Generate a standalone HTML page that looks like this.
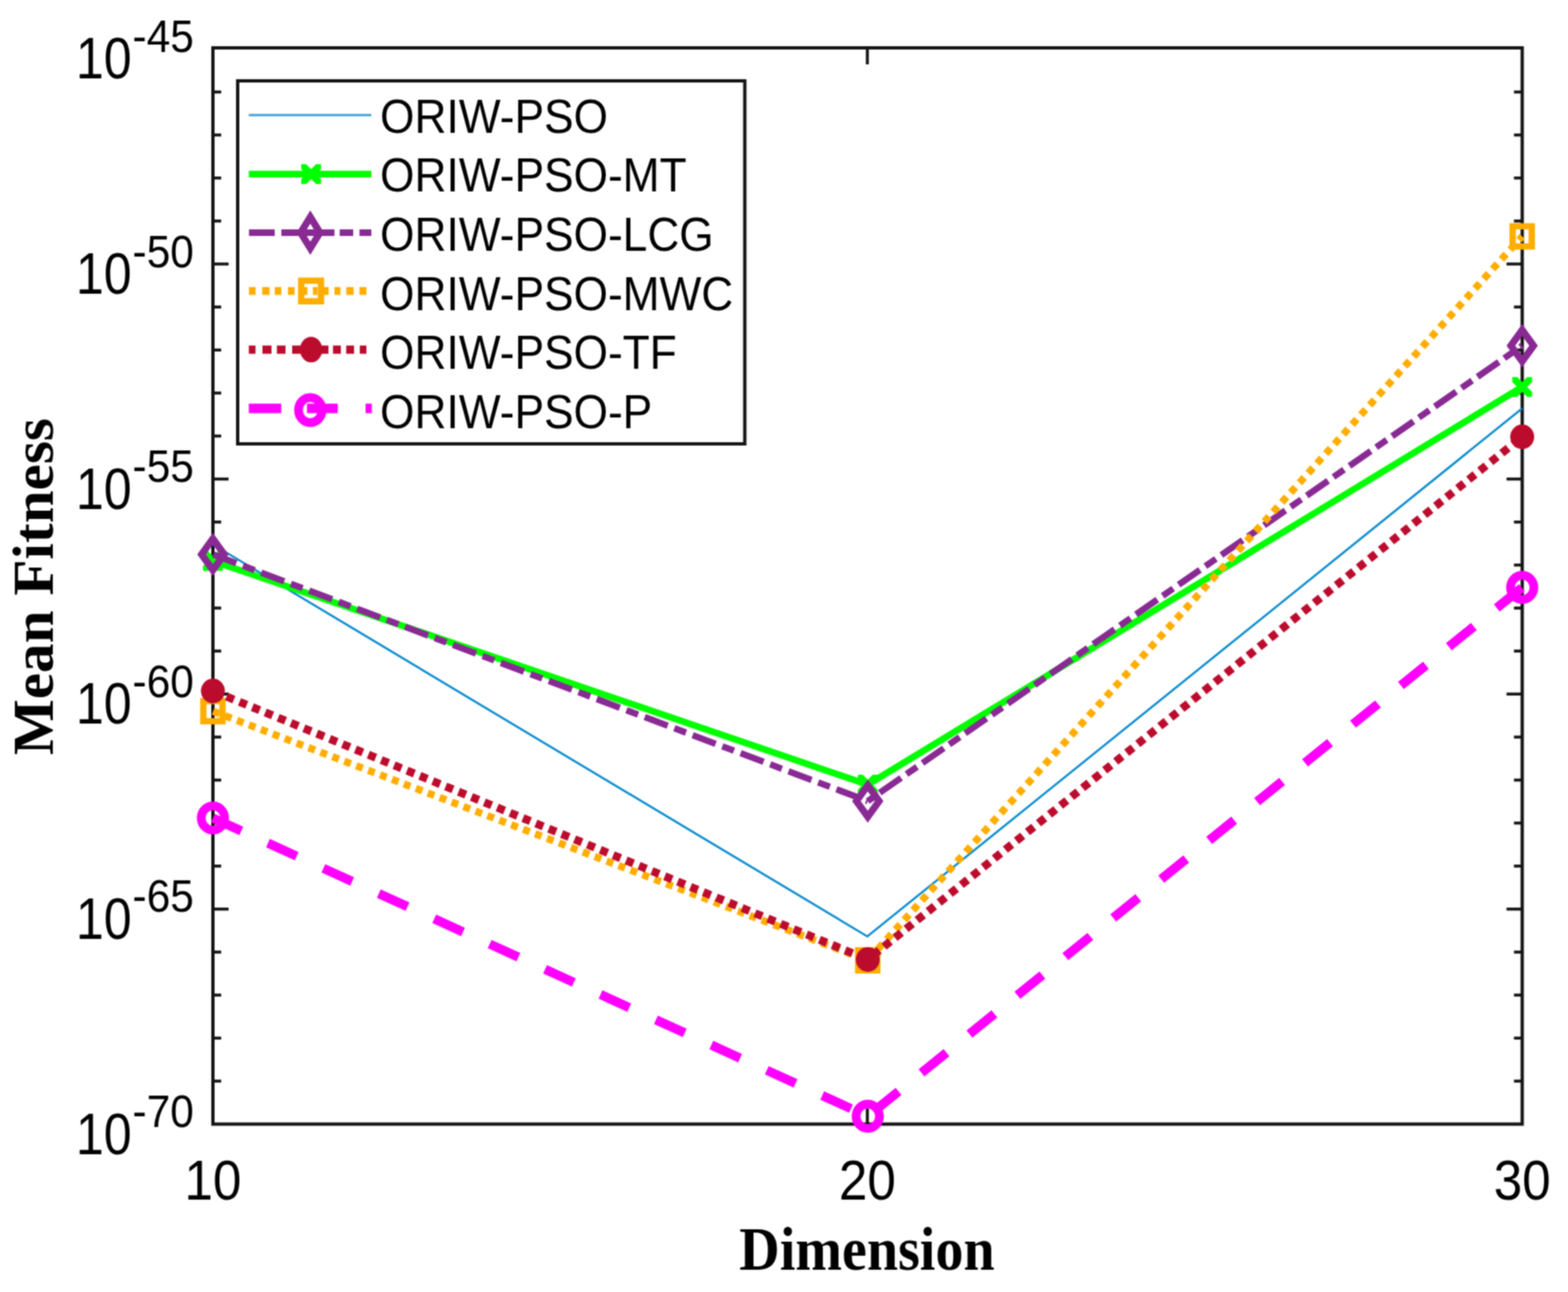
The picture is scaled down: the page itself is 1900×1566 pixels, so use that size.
<!DOCTYPE html><html><head><meta charset="utf-8"><style>html,body{margin:0;padding:0;background:#fff;}svg{display:block}</style></head><body>
<svg width="1900" height="1566" viewBox="0 0 1900 1566">
<defs><filter id="soft" filterUnits="userSpaceOnUse" x="0" y="0" width="1900" height="1566" color-interpolation-filters="sRGB"><feConvolveMatrix order="3" kernelMatrix="1 2 1 2 4 2 1 2 1" divisor="16" edgeMode="duplicate"/></filter></defs>
<g filter="url(#soft)">
<rect x="0" y="0" width="1900" height="1566" fill="#fff"/>
<g stroke="#141414" fill="none" stroke-linecap="square">
<rect x="258" y="58" width="1586.5" height="1304.5" stroke-width="4"/>
<line x1="258" y1="111.50" x2="268" y2="111.50" stroke-width="3.6" stroke-linecap="butt"/>
<line x1="1844.5" y1="111.50" x2="1834.5" y2="111.50" stroke-width="3.6" stroke-linecap="butt"/>
<line x1="258" y1="163.62" x2="268" y2="163.62" stroke-width="3.6" stroke-linecap="butt"/>
<line x1="1844.5" y1="163.62" x2="1834.5" y2="163.62" stroke-width="3.6" stroke-linecap="butt"/>
<line x1="258" y1="215.75" x2="268" y2="215.75" stroke-width="3.6" stroke-linecap="butt"/>
<line x1="1844.5" y1="215.75" x2="1834.5" y2="215.75" stroke-width="3.6" stroke-linecap="butt"/>
<line x1="258" y1="267.88" x2="268" y2="267.88" stroke-width="3.6" stroke-linecap="butt"/>
<line x1="1844.5" y1="267.88" x2="1834.5" y2="267.88" stroke-width="3.6" stroke-linecap="butt"/>
<line x1="258" y1="320.00" x2="277" y2="320.00" stroke-width="3.6" stroke-linecap="butt"/>
<line x1="1844.5" y1="320.00" x2="1825.5" y2="320.00" stroke-width="3.6" stroke-linecap="butt"/>
<line x1="258" y1="372.12" x2="268" y2="372.12" stroke-width="3.6" stroke-linecap="butt"/>
<line x1="1844.5" y1="372.12" x2="1834.5" y2="372.12" stroke-width="3.6" stroke-linecap="butt"/>
<line x1="258" y1="424.25" x2="268" y2="424.25" stroke-width="3.6" stroke-linecap="butt"/>
<line x1="1844.5" y1="424.25" x2="1834.5" y2="424.25" stroke-width="3.6" stroke-linecap="butt"/>
<line x1="258" y1="476.38" x2="268" y2="476.38" stroke-width="3.6" stroke-linecap="butt"/>
<line x1="1844.5" y1="476.38" x2="1834.5" y2="476.38" stroke-width="3.6" stroke-linecap="butt"/>
<line x1="258" y1="528.50" x2="268" y2="528.50" stroke-width="3.6" stroke-linecap="butt"/>
<line x1="1844.5" y1="528.50" x2="1834.5" y2="528.50" stroke-width="3.6" stroke-linecap="butt"/>
<line x1="258" y1="580.62" x2="277" y2="580.62" stroke-width="3.6" stroke-linecap="butt"/>
<line x1="1844.5" y1="580.62" x2="1825.5" y2="580.62" stroke-width="3.6" stroke-linecap="butt"/>
<line x1="258" y1="632.75" x2="268" y2="632.75" stroke-width="3.6" stroke-linecap="butt"/>
<line x1="1844.5" y1="632.75" x2="1834.5" y2="632.75" stroke-width="3.6" stroke-linecap="butt"/>
<line x1="258" y1="684.88" x2="268" y2="684.88" stroke-width="3.6" stroke-linecap="butt"/>
<line x1="1844.5" y1="684.88" x2="1834.5" y2="684.88" stroke-width="3.6" stroke-linecap="butt"/>
<line x1="258" y1="737.00" x2="268" y2="737.00" stroke-width="3.6" stroke-linecap="butt"/>
<line x1="1844.5" y1="737.00" x2="1834.5" y2="737.00" stroke-width="3.6" stroke-linecap="butt"/>
<line x1="258" y1="789.12" x2="268" y2="789.12" stroke-width="3.6" stroke-linecap="butt"/>
<line x1="1844.5" y1="789.12" x2="1834.5" y2="789.12" stroke-width="3.6" stroke-linecap="butt"/>
<line x1="258" y1="841.25" x2="277" y2="841.25" stroke-width="3.6" stroke-linecap="butt"/>
<line x1="1844.5" y1="841.25" x2="1825.5" y2="841.25" stroke-width="3.6" stroke-linecap="butt"/>
<line x1="258" y1="893.38" x2="268" y2="893.38" stroke-width="3.6" stroke-linecap="butt"/>
<line x1="1844.5" y1="893.38" x2="1834.5" y2="893.38" stroke-width="3.6" stroke-linecap="butt"/>
<line x1="258" y1="945.50" x2="268" y2="945.50" stroke-width="3.6" stroke-linecap="butt"/>
<line x1="1844.5" y1="945.50" x2="1834.5" y2="945.50" stroke-width="3.6" stroke-linecap="butt"/>
<line x1="258" y1="997.62" x2="268" y2="997.62" stroke-width="3.6" stroke-linecap="butt"/>
<line x1="1844.5" y1="997.62" x2="1834.5" y2="997.62" stroke-width="3.6" stroke-linecap="butt"/>
<line x1="258" y1="1049.75" x2="268" y2="1049.75" stroke-width="3.6" stroke-linecap="butt"/>
<line x1="1844.5" y1="1049.75" x2="1834.5" y2="1049.75" stroke-width="3.6" stroke-linecap="butt"/>
<line x1="258" y1="1101.88" x2="277" y2="1101.88" stroke-width="3.6" stroke-linecap="butt"/>
<line x1="1844.5" y1="1101.88" x2="1825.5" y2="1101.88" stroke-width="3.6" stroke-linecap="butt"/>
<line x1="258" y1="1154.00" x2="268" y2="1154.00" stroke-width="3.6" stroke-linecap="butt"/>
<line x1="1844.5" y1="1154.00" x2="1834.5" y2="1154.00" stroke-width="3.6" stroke-linecap="butt"/>
<line x1="258" y1="1206.12" x2="268" y2="1206.12" stroke-width="3.6" stroke-linecap="butt"/>
<line x1="1844.5" y1="1206.12" x2="1834.5" y2="1206.12" stroke-width="3.6" stroke-linecap="butt"/>
<line x1="258" y1="1258.25" x2="268" y2="1258.25" stroke-width="3.6" stroke-linecap="butt"/>
<line x1="1844.5" y1="1258.25" x2="1834.5" y2="1258.25" stroke-width="3.6" stroke-linecap="butt"/>
<line x1="258" y1="1310.38" x2="268" y2="1310.38" stroke-width="3.6" stroke-linecap="butt"/>
<line x1="1844.5" y1="1310.38" x2="1834.5" y2="1310.38" stroke-width="3.6" stroke-linecap="butt"/>
<line x1="1051" y1="1362.5" x2="1051" y2="1343.5" stroke-width="3.6" stroke-linecap="butt"/>
<line x1="1051" y1="58" x2="1051" y2="78" stroke-width="3.6" stroke-linecap="butt"/>
</g>
<polyline points="258,660 1051,1135 1844.5,495" fill="none" stroke="#0A8BCF" stroke-width="2.6" stroke-linejoin="miter"/>
<polyline points="258,680 1051.5,951 1844.5,469" fill="none" stroke="#00FF00" stroke-width="8" stroke-linejoin="miter"/>
<path d="M246.00,668.00 L252.00,668.00 L258.00,674.00 L264.00,668.00 L270.00,668.00 L270.00,674.00 L264.00,680.00 L270.00,686.00 L270.00,692.00 L264.00,692.00 L258.00,686.00 L252.00,692.00 L246.00,692.00 L246.00,686.00 L252.00,680.00 L246.00,674.00Z" fill="#00FF00"/>
<path d="M1039.50,939.00 L1045.50,939.00 L1051.50,945.00 L1057.50,939.00 L1063.50,939.00 L1063.50,945.00 L1057.50,951.00 L1063.50,957.00 L1063.50,963.00 L1057.50,963.00 L1051.50,957.00 L1045.50,963.00 L1039.50,963.00 L1039.50,957.00 L1045.50,951.00 L1039.50,945.00Z" fill="#00FF00"/>
<path d="M1832.50,457.00 L1838.50,457.00 L1844.50,463.00 L1850.50,457.00 L1856.50,457.00 L1856.50,463.00 L1850.50,469.00 L1856.50,475.00 L1856.50,481.00 L1850.50,481.00 L1844.50,475.00 L1838.50,481.00 L1832.50,481.00 L1832.50,475.00 L1838.50,469.00 L1832.50,463.00Z" fill="#00FF00"/>
<line x1="258" y1="672" x2="1051.5" y2="971" stroke="#892A94" stroke-width="7.8" stroke-dasharray="29.80 8.60 15.10 8.57" stroke-dashoffset="61.57" stroke-linecap="butt"/>
<line x1="1051.5" y1="971" x2="1844.5" y2="419" stroke="#892A94" stroke-width="7.8" stroke-dasharray="31.50 8.00 15.50 8.04" stroke-dashoffset="45.34" stroke-linecap="butt"/>
<path d="M258,652.95L271.75,672L258,691.05L244.25,672Z" stroke="#892A94" stroke-width="8.5" fill="none" stroke-linejoin="miter"/>
<path d="M1051.5,951.95L1065.25,971L1051.5,990.05L1037.75,971Z" stroke="#892A94" stroke-width="8.5" fill="none" stroke-linejoin="miter"/>
<path d="M1844.5,399.95L1858.25,419L1844.5,438.05L1830.75,419Z" stroke="#892A94" stroke-width="8.5" fill="none" stroke-linejoin="miter"/>
<line x1="258" y1="862" x2="1051.5" y2="1164" stroke="#FFAD00" stroke-width="8.8" stroke-dasharray="8.40 7.06" stroke-dashoffset="15.16" stroke-linecap="butt"/>
<line x1="1051.5" y1="1164" x2="1844.5" y2="286.5" stroke="#FFAD00" stroke-width="8.8" stroke-dasharray="8.60 7.27" stroke-dashoffset="13.37" stroke-linecap="butt"/>
<rect x="246.4" y="849.8" width="23.2" height="24.4" stroke="#FFAD00" stroke-width="7.6" fill="none"/>
<rect x="1039.9" y="1151.8" width="23.2" height="24.4" stroke="#FFAD00" stroke-width="7.6" fill="none"/>
<rect x="1832.9" y="274.3" width="23.2" height="24.4" stroke="#FFAD00" stroke-width="7.6" fill="none"/>
<line x1="258" y1="837.5" x2="1051.5" y2="1163" stroke="#BC0C2D" stroke-width="9.8" stroke-dasharray="9.60 7.28" stroke-dashoffset="15.88" stroke-linecap="butt"/>
<line x1="1051.5" y1="1163" x2="1844.5" y2="529.5" stroke="#BC0C2D" stroke-width="9.8" stroke-dasharray="9.80 7.31" stroke-dashoffset="9.01" stroke-linecap="butt"/>
<ellipse cx="258" cy="837.5" rx="14.5" ry="15" fill="#BC0C2D"/>
<ellipse cx="1051.5" cy="1163" rx="14.5" ry="15" fill="#BC0C2D"/>
<ellipse cx="1844.5" cy="529.5" rx="14.5" ry="15" fill="#BC0C2D"/>
<line x1="258" y1="991.5" x2="1051.5" y2="1353" stroke="#FF00FF" stroke-width="11.2" stroke-dasharray="38.30 35.50" stroke-dashoffset="0.50" stroke-linecap="butt"/>
<line x1="1051.5" y1="1353" x2="1844.5" y2="712" stroke="#FF00FF" stroke-width="11.2" stroke-dasharray="39.00 35.70" stroke-dashoffset="65.70" stroke-linecap="butt"/>
<ellipse cx="258" cy="991.5" rx="14.2" ry="14.8" stroke="#FF00FF" stroke-width="10.5" fill="none"/>
<ellipse cx="1051.5" cy="1353" rx="14.2" ry="14.8" stroke="#FF00FF" stroke-width="10.5" fill="none"/>
<ellipse cx="1844.5" cy="712" rx="14.2" ry="14.8" stroke="#FF00FF" stroke-width="10.5" fill="none"/>
<text transform="translate(96.7,95.38) scale(0.874,1)" font-family="Liberation Sans, Arial, Helvetica, sans-serif" font-size="69.5" fill="#000" x="-5.3">10</text>
<text transform="translate(235,62.88) scale(0.92,1)" font-family="Liberation Sans, Arial, Helvetica, sans-serif" font-size="56" fill="#000" text-anchor="end">-45</text>
<text transform="translate(96.7,356.00) scale(0.874,1)" font-family="Liberation Sans, Arial, Helvetica, sans-serif" font-size="69.5" fill="#000" x="-5.3">10</text>
<text transform="translate(235,323.50) scale(0.92,1)" font-family="Liberation Sans, Arial, Helvetica, sans-serif" font-size="56" fill="#000" text-anchor="end">-50</text>
<text transform="translate(96.7,616.62) scale(0.874,1)" font-family="Liberation Sans, Arial, Helvetica, sans-serif" font-size="69.5" fill="#000" x="-5.3">10</text>
<text transform="translate(235,584.12) scale(0.92,1)" font-family="Liberation Sans, Arial, Helvetica, sans-serif" font-size="56" fill="#000" text-anchor="end">-55</text>
<text transform="translate(96.7,877.25) scale(0.874,1)" font-family="Liberation Sans, Arial, Helvetica, sans-serif" font-size="69.5" fill="#000" x="-5.3">10</text>
<text transform="translate(235,844.75) scale(0.92,1)" font-family="Liberation Sans, Arial, Helvetica, sans-serif" font-size="56" fill="#000" text-anchor="end">-60</text>
<text transform="translate(96.7,1137.88) scale(0.874,1)" font-family="Liberation Sans, Arial, Helvetica, sans-serif" font-size="69.5" fill="#000" x="-5.3">10</text>
<text transform="translate(235,1105.38) scale(0.92,1)" font-family="Liberation Sans, Arial, Helvetica, sans-serif" font-size="56" fill="#000" text-anchor="end">-65</text>
<text transform="translate(96.7,1398.50) scale(0.874,1)" font-family="Liberation Sans, Arial, Helvetica, sans-serif" font-size="69.5" fill="#000" x="-5.3">10</text>
<text transform="translate(235,1366.00) scale(0.92,1)" font-family="Liberation Sans, Arial, Helvetica, sans-serif" font-size="56" fill="#000" text-anchor="end">-70</text>
<text transform="translate(258,1453.6) scale(0.9,1)" font-family="Liberation Sans, Arial, Helvetica, sans-serif" font-size="69" fill="#000" text-anchor="middle">10</text>
<text transform="translate(1051,1453.6) scale(0.9,1)" font-family="Liberation Sans, Arial, Helvetica, sans-serif" font-size="69" fill="#000" text-anchor="middle">20</text>
<text transform="translate(1844.5,1453.6) scale(0.9,1)" font-family="Liberation Sans, Arial, Helvetica, sans-serif" font-size="69" fill="#000" text-anchor="middle">30</text>
<text transform="translate(1050.5,1539) scale(0.93,1)" font-family="Liberation Serif, Times New Roman, serif" font-weight="bold" font-size="73" fill="#000" text-anchor="middle">Dimension</text>
<text transform="translate(64,711) rotate(-90) scale(0.983,0.96)" font-family="Liberation Serif, Times New Roman, serif" font-weight="bold" font-size="73" fill="#000" text-anchor="middle">Mean Fitness</text>
<rect x="288" y="98" width="614.5" height="440" fill="#fff" stroke="#141414" stroke-width="4"/>
<line x1="301.5" y1="139.5" x2="450" y2="139.5" stroke="#4FAADB" stroke-width="3.2"/>
<line x1="301.5" y1="211" x2="450" y2="211" stroke="#00FF00" stroke-width="8"/>
<path d="M365.00,199.00 L371.00,199.00 L377.00,205.00 L383.00,199.00 L389.00,199.00 L389.00,205.00 L383.00,211.00 L389.00,217.00 L389.00,223.00 L383.00,223.00 L377.00,217.00 L371.00,223.00 L365.00,223.00 L365.00,217.00 L371.00,211.00 L365.00,205.00Z" fill="#00FF00"/>
<line x1="301.7" y1="282" x2="332.9" y2="282" stroke="#892A94" stroke-width="8"/>
<line x1="340.9" y1="282" x2="405.3" y2="282" stroke="#892A94" stroke-width="8"/>
<line x1="411.6" y1="282" x2="428" y2="282" stroke="#892A94" stroke-width="8"/>
<line x1="435.6" y1="282" x2="450" y2="282" stroke="#892A94" stroke-width="8"/>
<path d="M376,263.1L387.7,282L376,300.9L364.3,282Z" stroke="#892A94" stroke-width="8.5" fill="none" stroke-linejoin="miter"/>
<line x1="301.7" y1="352.7" x2="309.7" y2="352.7" stroke="#FFAD00" stroke-width="9.5"/>
<line x1="317.7" y1="352.7" x2="326.6" y2="352.7" stroke="#FFAD00" stroke-width="9.5"/>
<line x1="332.9" y1="352.7" x2="340.9" y2="352.7" stroke="#FFAD00" stroke-width="9.5"/>
<line x1="348.9" y1="352.7" x2="356.9" y2="352.7" stroke="#FFAD00" stroke-width="9.5"/>
<line x1="364.5" y1="352.7" x2="372.5" y2="352.7" stroke="#FFAD00" stroke-width="9.5"/>
<line x1="379.2" y1="352.7" x2="384.7" y2="352.7" stroke="#FFAD00" stroke-width="9.5"/>
<line x1="390" y1="352.7" x2="398.2" y2="352.7" stroke="#FFAD00" stroke-width="9.5"/>
<line x1="405.3" y1="352.7" x2="412.5" y2="352.7" stroke="#FFAD00" stroke-width="9.5"/>
<line x1="419.6" y1="352.7" x2="428.5" y2="352.7" stroke="#FFAD00" stroke-width="9.5"/>
<line x1="435.6" y1="352.7" x2="444" y2="352.7" stroke="#FFAD00" stroke-width="9.5"/>
<rect x="365" y="340.2" width="24" height="25.0" stroke="#FFAD00" stroke-width="7.6" fill="none"/>
<line x1="301.5" y1="423.8" x2="309.6" y2="423.8" stroke="#BC0C2D" stroke-width="10"/>
<line x1="318" y1="423.8" x2="329" y2="423.8" stroke="#BC0C2D" stroke-width="10"/>
<line x1="335.5" y1="423.8" x2="346" y2="423.8" stroke="#BC0C2D" stroke-width="10"/>
<line x1="354" y1="423.8" x2="361" y2="423.8" stroke="#BC0C2D" stroke-width="10"/>
<line x1="361" y1="423.8" x2="392" y2="423.8" stroke="#BC0C2D" stroke-width="10"/>
<line x1="392" y1="423.8" x2="398" y2="423.8" stroke="#BC0C2D" stroke-width="10"/>
<line x1="403.5" y1="423.8" x2="413" y2="423.8" stroke="#BC0C2D" stroke-width="10"/>
<line x1="419.5" y1="423.8" x2="429" y2="423.8" stroke="#BC0C2D" stroke-width="10"/>
<line x1="436" y1="423.8" x2="444" y2="423.8" stroke="#BC0C2D" stroke-width="10"/>
<ellipse cx="377" cy="423.8" rx="13.5" ry="15.5" fill="#BC0C2D"/>
<line x1="301.5" y1="495" x2="340.8" y2="495" stroke="#FF00FF" stroke-width="11.5"/>
<line x1="372" y1="495" x2="409.3" y2="495" stroke="#FF00FF" stroke-width="11.5"/>
<line x1="443" y1="495" x2="450.5" y2="495" stroke="#FF00FF" stroke-width="11.5"/>
<ellipse cx="376" cy="497" rx="14.3" ry="15.3" stroke="#FF00FF" stroke-width="10.5" fill="none"/>
<text transform="translate(463,160.80) scale(0.925,1)" font-family="Liberation Sans, Arial, Helvetica, sans-serif" font-size="58" fill="#000" x="-2.7">ORIW-PSO</text>
<text transform="translate(463,232.40) scale(0.925,1)" font-family="Liberation Sans, Arial, Helvetica, sans-serif" font-size="58" fill="#000" x="-2.7">ORIW-PSO-MT</text>
<text transform="translate(463,304.00) scale(0.925,1)" font-family="Liberation Sans, Arial, Helvetica, sans-serif" font-size="58" fill="#000" x="-2.7">ORIW-PSO-LCG</text>
<text transform="translate(463,375.60) scale(0.925,1)" font-family="Liberation Sans, Arial, Helvetica, sans-serif" font-size="58" fill="#000" x="-2.7">ORIW-PSO-MWC</text>
<text transform="translate(463,447.20) scale(0.925,1)" font-family="Liberation Sans, Arial, Helvetica, sans-serif" font-size="58" fill="#000" x="-2.7">ORIW-PSO-TF</text>
<text transform="translate(463,518.80) scale(0.925,1)" font-family="Liberation Sans, Arial, Helvetica, sans-serif" font-size="58" fill="#000" x="-2.7">ORIW-PSO-P</text>
</g></svg></body></html>
